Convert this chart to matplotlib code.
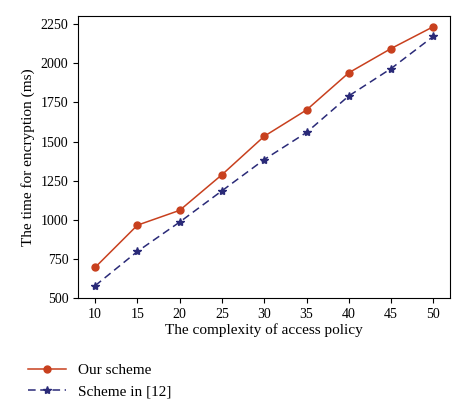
import matplotlib

matplotlib.use("Agg")
import matplotlib.pyplot as plt

plt.rcParams["font.family"] = ["Liberation Serif", "DejaVu Serif"]

complexity = [10, 15, 20, 25, 30, 35, 40, 45, 50]
our_scheme = [695, 965, 1060, 1288, 1534, 1702, 1940, 2095, 2235]
scheme_12 = [578, 797, 985, 1185, 1385, 1558, 1792, 1967, 2173]

fig = plt.figure(figsize=(4.74, 4.12), dpi=100)
ax = fig.add_axes([0.165, 0.277, 0.785, 0.683])

ax.plot(complexity, our_scheme, color="#c8401e", marker="o", markersize=5,
        linewidth=1.1, label="Our scheme")
ax.plot(complexity, scheme_12, color="#2a2a78", marker="*", markersize=6,
        linewidth=1.1, linestyle="--", dashes=(5, 3), label="Scheme in [12]")

ax.set_xlim(8, 52)
ax.set_ylim(500, 2300)
ax.set_xticks(complexity)
ax.set_yticks([500, 750, 1000, 1250, 1500, 1750, 2000, 2250])
ax.tick_params(labelsize=10, direction="out")
ax.set_xlabel("The complexity of access policy", fontsize=11, labelpad=2)
ax.set_ylabel("The time for encryption (ms)", fontsize=11)

fig.legend(loc="lower left", bbox_to_anchor=(0.03, 0.0), frameon=False,
           fontsize=11, handlelength=2.5)

fig.savefig("out.png", dpi=100)
